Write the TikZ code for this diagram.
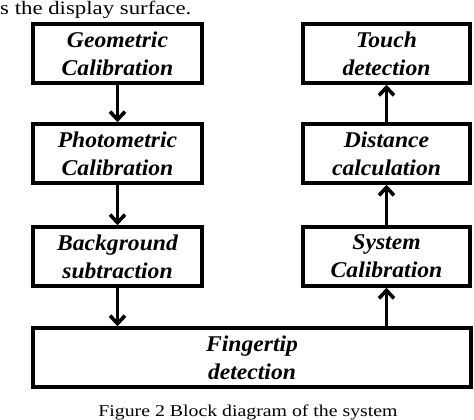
\documentclass[tikz,border=0pt]{standalone}
\usepackage{fontspec}
\setmainfont{Liberation Serif}
\newfontfamily\boxfont[FakeStretch=1.05]{Liberation Serif}
\newfontfamily\plainfont[FakeStretch=1.2]{Liberation Serif}
\usetikzlibrary{arrows.meta}
\begin{document}
\begin{tikzpicture}[x=1pt,y=-1pt,
  blk/.style={draw, line width=3.5pt, rectangle, inner sep=0pt, align=center,
    font=\boxfont\bfseries\itshape\fontsize{22.5}{28}\selectfont},
  conn/.style={line width=3.6pt, -{Straight Barb[length=8pt,width=15pt,line width=3.6pt]}}]
\useasboundingbox (0,0) rectangle (474,420);
\node[anchor=base west, inner sep=0pt, font=\plainfont\fontsize{19}{22}\selectfont] (top) at (0,14.5) {s the display surface.};
\node[blk, minimum width=169pt, minimum height=59pt] (geo) at (117.5,53.5) {Geometric\\Calibration};
\node[blk, minimum width=169pt, minimum height=59pt] (pho) at (117.5,153.5) {Photometric\\Calibration};
\node[blk, minimum width=169pt, minimum height=59pt] (bg) at (117.5,256.5) {Background\\subtraction};
\node[blk, minimum width=167pt, minimum height=59pt] (tou) at (386.5,53.5) {Touch\\detection};
\node[blk, minimum width=167pt, minimum height=59pt] (dis) at (386.5,153.5) {Distance\\calculation};
\node[blk, minimum width=167pt, minimum height=59pt] (sys) at (386.5,256.5) {System\\Calibration};
\node[blk, minimum width=438pt, minimum height=59pt] (fin) at (252,357.5) {Fingertip\\detection};
\node[anchor=base, inner sep=0pt, font=\plainfont\fontsize{16.5}{18}\selectfont] (cap) at (248,416) {Figure 2 Block diagram of the system};
\draw[conn] (geo.south) -- (pho.north);
\draw[conn] (pho.south) -- (bg.north);
\draw[conn] (bg.south) -- (bg.south |- fin.north);
\draw[conn] (fin.north -| sys.south) -- (sys.south);
\draw[conn] (sys.north) -- (dis.south);
\draw[conn] (dis.north) -- (tou.south);
\end{tikzpicture}
\end{document}
